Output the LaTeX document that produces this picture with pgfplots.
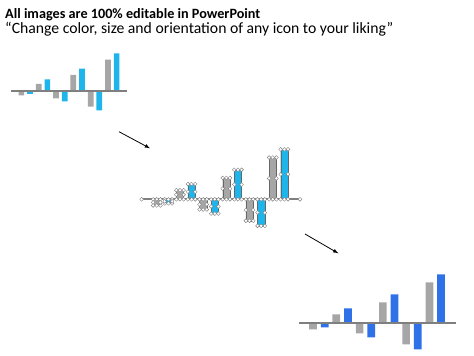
\documentclass[border=0pt]{standalone}
\usepackage{pgfplots}
\usepackage{pgfplotstable}
\pgfplotsset{compat=1.18}
\usepackage{fontspec}
\setmainfont{Carlito}
\definecolor{bargray}{HTML}{A6A6A6}
\definecolor{linegray}{HTML}{7F7F7F}
\definecolor{cyanb}{HTML}{1EB4EC}
\definecolor{blueb}{HTML}{2F72E8}
\pgfplotstableread{
g gray blue
1 -6 -4
2 9 15
3 -10 -14
4 21 29
5 -21 -26
6 41 49
}\datatab
\pgfplotsset{
  mini/.style={scale only axis, axis lines=none, ymin=-28, ymax=52, clip=false, anchor=south west},
}
\begin{document}
\begin{tikzpicture}[x=1bp,y=1bp]
\path[use as bounding box] (0,0) rectangle (474,355);
\node[anchor=base west, inner sep=0, font=\fontsize{14.2bp}{16bp}\selectfont\bfseries] at (5,336.5) {All images are 100\% editable in PowerPoint};
\node[anchor=base west, inner sep=0, font=\fontsize{15.7bp}{17bp}\selectfont] at (5,321.5) {“Change color, size and orientation of any icon to your liking”};
\draw[-latex, thick] (119,223.3) -- (150,206.7);
\draw[-latex, thick] (305,121) -- (338.3,101.7);
% chart 1
\begin{axis}[mini, at={(11bp,243.0bp)}, width=116bp, height=60.8bp, xmin=-0.2, xmax=13.2]
\addplot[ybar, bar width=0.66, bar shift=0, fill=bargray, draw=none] table[x expr=2*\thisrow{g}-1, y=gray] {\datatab};
\addplot[ybar, bar width=0.66, bar shift=0, fill=cyanb, draw=none] table[x expr=2*\thisrow{g}, y=blue] {\datatab};
\addplot[linegray, line width=1.6bp] coordinates {(-0.2,0) (13.2,0)};
\end{axis}
% chart 2
\begin{axis}[mini, at={(141.7bp,127.1bp)}, width=158.3bp, height=81.6bp, xmin=-0.3, xmax=13.35]
\addplot[ybar, bar width=0.63, bar shift=0, fill=bargray, draw=gray!80!black, line width=0.3bp] table[x expr=2*\thisrow{g}-1, y=gray] {\datatab};
\addplot[ybar, bar width=0.63, bar shift=0, fill=cyanb, draw=gray!80!black, line width=0.3bp] table[x expr=2*\thisrow{g}, y=blue] {\datatab};
\addplot[linegray, line width=2bp, mark=*, mark options={fill=white, draw=gray, line width=0.4bp}, mark size=1.9bp] coordinates {(-0.3,0) (13.35,0)};
\pgfplotsset{hnd/.style={only marks, mark=*, mark size=1.9bp, mark options={fill=white, draw=gray, line width=0.4bp}}}
\foreach \col/\off in {gray/1, blue/0} {
  \addplot[hnd] table[x expr=2*\thisrow{g}-\off-0.315, y expr=0] {\datatab};
  \addplot[hnd] table[x expr=2*\thisrow{g}-\off+0.315, y expr=0] {\datatab};
  \addplot[hnd] table[x expr=2*\thisrow{g}-\off, y expr=0] {\datatab};
  \addplot[hnd] table[x expr=2*\thisrow{g}-\off-0.315, y=\col] {\datatab};
  \addplot[hnd] table[x expr=2*\thisrow{g}-\off+0.315, y=\col] {\datatab};
  \addplot[hnd] table[x expr=2*\thisrow{g}-\off, y=\col] {\datatab};
  \addplot[hnd] table[x expr=2*\thisrow{g}-\off-0.315, y expr=0.5*\thisrow{\col}] {\datatab};
  \addplot[hnd] table[x expr=2*\thisrow{g}-\off+0.315, y expr=0.5*\thisrow{\col}] {\datatab};
}
\end{axis}
% chart 3
\begin{axis}[mini, at={(299.3bp,3.7bp)}, width=156.4bp, height=80bp, xmin=-0.18, xmax=13.26]
\addplot[ybar, bar width=0.66, bar shift=0, fill=bargray, draw=none] table[x expr=2*\thisrow{g}-1, y=gray] {\datatab};
\addplot[ybar, bar width=0.66, bar shift=0, fill=blueb, draw=none] table[x expr=2*\thisrow{g}, y=blue] {\datatab};
\addplot[linegray, line width=2bp] coordinates {(-0.18,0) (13.26,0)};
\end{axis}
\end{tikzpicture}
\end{document}
